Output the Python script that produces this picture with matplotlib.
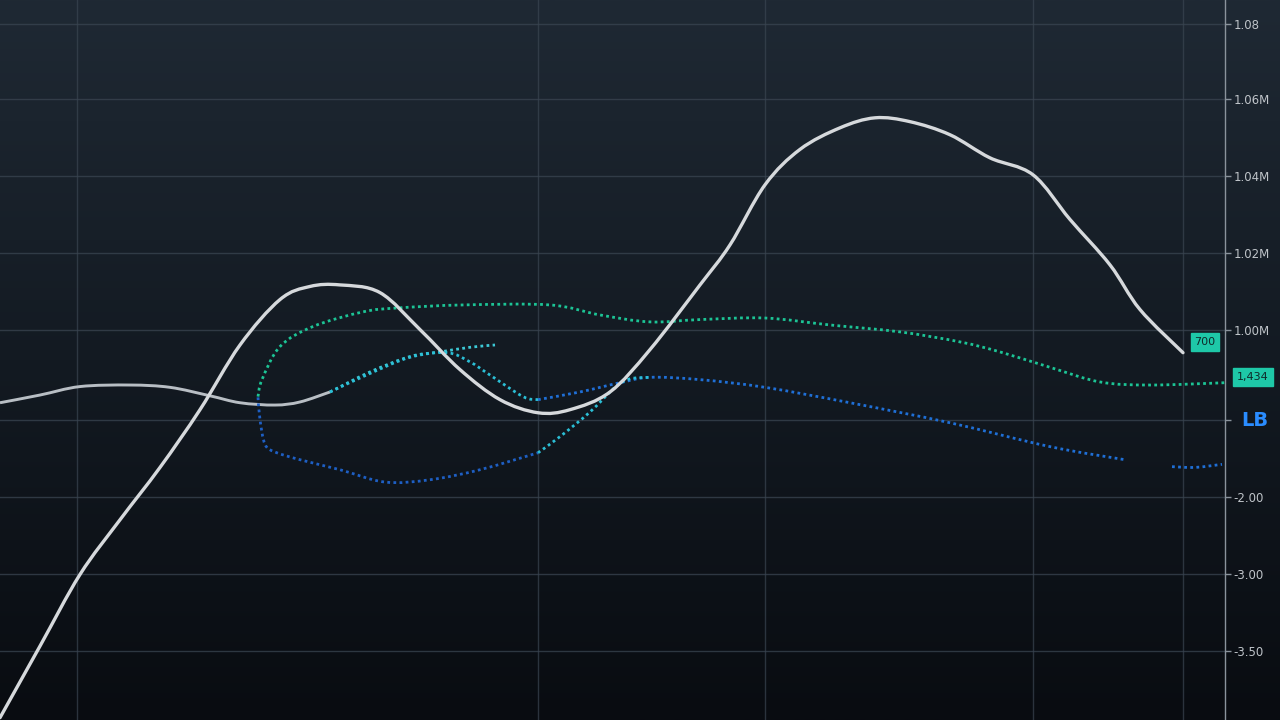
import numpy as np
import matplotlib
matplotlib.use("Agg")
import matplotlib.pyplot as plt
from matplotlib.colors import LinearSegmentedColormap
from matplotlib.path import Path
from matplotlib.patches import PathPatch

# ---- data ----
main_x = [0, 8, 16, 24, 32, 40, 48, 56, 62, 68, 76, 84, 92, 100, 107.6, 114, 122, 130,
          140, 146, 153, 160, 168, 175, 182, 190, 198, 206.6, 214, 222, 228, 236.6]
main_y = [-38.7, -29.4, -20.1, -13.0, -6.2, 1.3, 9.7, 15.6, 17.3, 17.5, 16.5, 11.7, 6.5,
          2.6, 0.9, 1.3, 3.6, 9.1, 17.5, 22.7, 30.5, 35.1, 37.9, 39.2, 38.7, 37.0, 34.0,
          31.8, 26.0, 20.1, 14.3, 8.7]

gray_x = [0, 8, 16, 26, 34, 42, 48, 55, 60, 66]
gray_y = [2.2, 3.2, 4.3, 4.5, 4.2, 3.1, 2.2, 1.9, 2.3, 3.6]

cyan1_x = [66, 74, 82, 88, 94, 99]
cyan1_y = [3.6, 6.2, 8.2, 8.8, 9.4, 9.7]

cyan2_x = [66, 74, 82, 89.4, 94, 98, 104.6, 107.6]
cyan2_y = [3.6, 6.0, 8.1, 8.7, 7.5, 5.8, 3.0, 2.6]

blue1_x = [107.6, 116, 124, 130, 140, 153, 170, 190, 210, 225]
blue1_y = [2.6, 3.6, 4.8, 5.5, 5.2, 4.2, 2.2, -0.4, -3.5, -5.2]

blue_tail_x = [234.4, 239, 244.4]
blue_tail_y = [-6.1, -6.2, -5.8]

loop_x = [51.6, 52, 53, 55, 60, 68, 77, 86, 96, 107.6]
loop_y = [2.9, 0.0, -3.2, -4.2, -5.2, -6.5, -8.1, -7.8, -6.5, -4.3]

cyan_up_x = [107.6, 112, 118, 123, 126, 130]
cyan_up_y = [-4.3, -2.2, 1.0, 4.2, 5.3, 5.5]

green_x = [51.6, 52.4, 56, 62.6, 72.6, 79.4, 92.6, 110, 120, 130, 140, 153, 166, 180,
           192, 200, 210, 220, 230, 245]
green_y = [3.0, 5.2, 9.5, 12.1, 14.0, 14.5, 14.9, 14.9, 13.6, 12.7, 13.0, 13.2, 12.3,
           11.4, 10.1, 8.8, 6.8, 4.9, 4.5, 4.8]

ytick_vals = [51.4, 41.6, 31.6, 21.6, 11.7, 0, -10, -20, -30]
ytick_labels = ["1.08", "1.06M", "1.04M", "1.02M", "1.00M", "", "-2.00", "-3.00", "-3.50"]
xgrid_vals = [15.4, 107.6, 153, 206.6, 236.6]


def smooth_path(xs, ys):
    """Catmull-Rom through the data points, as cubic Bezier segments."""
    p = np.column_stack([xs, ys]).astype(float)
    n = len(p)
    verts = [p[0]]
    codes = [Path.MOVETO]
    for i in range(n - 1):
        p0 = p[i - 1] if i > 0 else p[i]
        p1, p2 = p[i], p[i + 1]
        p3 = p[i + 2] if i + 2 < n else p[i + 1]
        c1 = p1 + (p2 - p0) / 6.0
        c2 = p2 - (p3 - p1) / 6.0
        verts += [c1, c2, p2]
        codes += [Path.CURVE4] * 3
    return Path(verts, codes)


def draw(ax, xs, ys, **kw):
    patch = PathPatch(smooth_path(xs, ys), fill=False, **kw)
    ax.add_patch(patch)


# ---- figure ----
fig = plt.figure(figsize=(12.8, 7.2), dpi=100)
bg = fig.add_axes([0, 0, 1, 1], zorder=-10)
cmap = LinearSegmentedColormap.from_list("bg", ["#090c11", "#131a22", "#1f2934"])
grad = np.linspace(0, 1, 256).reshape(-1, 1)
bg.imshow(grad, aspect="auto", cmap=cmap, origin="lower", extent=[0, 1, 0, 1])
bg.set_xlim(0, 1); bg.set_ylim(0, 1)
bg.axis("off")

ax = fig.add_axes([0, 0, 1225 / 1280, 1])
ax.patch.set_alpha(0)
ax.set_xlim(0, 245)
ax.set_ylim(-39.0, 54.5)

for v in ytick_vals:
    ax.axhline(v, color="#3a4551", lw=1.0, alpha=0.75, zorder=1)
for v in xgrid_vals:
    ax.axvline(v, color="#3a4551", lw=1.0, alpha=0.7, zorder=1)

dot = (0, (1, 1.2))
draw(ax, main_x, main_y, edgecolor="#d6d9dc", lw=2.4, capstyle="round", zorder=5)
draw(ax, gray_x, gray_y, edgecolor="#b8bec4", lw=2.1, zorder=4)
draw(ax, cyan1_x, cyan1_y, edgecolor="#3cc9d6", lw=2.0, ls=dot, zorder=4)
draw(ax, cyan2_x, cyan2_y, edgecolor="#2bbfd6", lw=2.0, ls=dot, zorder=4)
draw(ax, blue1_x, blue1_y, edgecolor="#1f6fd6", lw=2.0, ls=dot, zorder=4)
draw(ax, blue_tail_x, blue_tail_y, edgecolor="#1f6fd6", lw=2.0, ls=dot, zorder=4)
draw(ax, loop_x, loop_y, edgecolor="#1e5fc4", lw=2.0, ls=dot, zorder=4)
draw(ax, cyan_up_x, cyan_up_y, edgecolor="#2bbfd6", lw=2.0, ls=dot, zorder=4)
draw(ax, green_x, green_y, edgecolor="#1cc495", lw=2.0, ls=dot, zorder=4)

ax.set_xticks([])
ax.yaxis.tick_right()
ax.set_yticks(ytick_vals)
ax.set_yticklabels(ytick_labels)
ax.tick_params(axis="y", colors="#8a939c", labelcolor="#bfc4c9", labelsize=8.5,
               length=4, width=1, pad=2)
for s in ["top", "left", "bottom"]:
    ax.spines[s].set_visible(False)
ax.spines["right"].set_color("#8a939c")
ax.spines["right"].set_linewidth(1.0)

# annotations
fig.text(1205 / 1280, 1 - 342 / 720, "700", ha="center", va="center", fontsize=8,
         color="#0f2a2a",
         bbox=dict(boxstyle="square,pad=0.35", fc="#1ec8a8", ec="#1ec8a8"))
fig.text(1253 / 1280, 1 - 377 / 720, "1,434", ha="center", va="center", fontsize=8,
         color="#0f2a2a",
         bbox=dict(boxstyle="square,pad=0.35", fc="#1ec8a8", ec="#1ec8a8"))
fig.text(1255 / 1280, 1 - 421 / 720, "LB", ha="center", va="center", fontsize=14,
         color="#2a8cff", fontweight="bold")

fig.savefig("out.png", dpi=100)
